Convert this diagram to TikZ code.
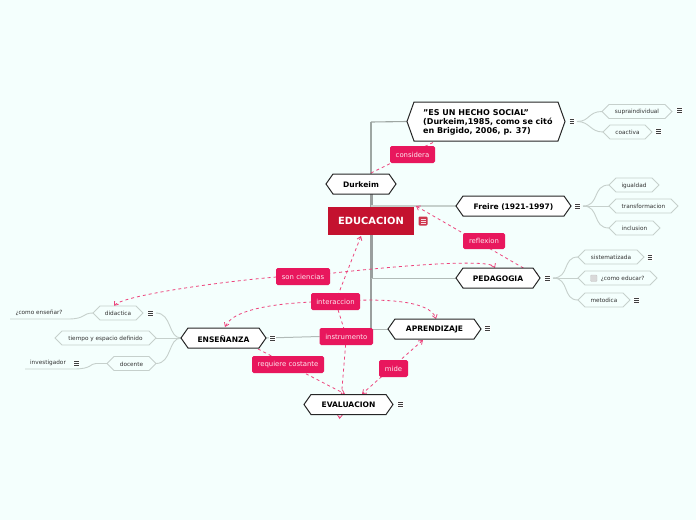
\documentclass[tikz,border=0pt]{standalone}
\usepackage{fontspec}
\setmainfont{DejaVu Sans}
\usetikzlibrary{arrows.meta,backgrounds}
\definecolor{pagebg}{HTML}{F4FFFD}
\definecolor{hotpink}{HTML}{E8175D}
\definecolor{rootred}{HTML}{C4122F}
\definecolor{thinline}{HTML}{C6D0CC}
\definecolor{trunk}{HTML}{9A9F9E}
\definecolor{softtext}{HTML}{333333}
\pgfdeclarelayer{links}
\pgfdeclarelayer{branches}
\pgfsetlayers{background,branches,links,main}
\tikzset{
  box/.style={inner sep=0pt,outer sep=0pt,align=center},
  bigbox/.style={box,text=black,font=\fontsize{7.55}{9}\selectfont\bfseries},
  smallbox/.style={box,text=softtext,font=\fontsize{5.75}{7}\selectfont},
  hexbig/.style={draw=black!85,line width=1pt,fill=white,line join=miter},
  hexsmall/.style={draw=thinline,line width=.9pt,fill=pagebg},
  tag/.style={rectangle,rounded corners=1.6pt,fill=hotpink,text=white!90!hotpink,inner sep=0pt,outer sep=0pt,font=\fontsize{6.9}{8}\selectfont,anchor=center},
  rel/.style={hotpink!80!white,line width=.8pt,dash pattern=on 3pt off 3pt},
  relboth/.style={rel,{Straight Barb[length=3.5pt,width=5pt]}-{Straight Barb[length=3.5pt,width=5pt]}},
  relend/.style={rel,-{Straight Barb[length=3.5pt,width=5pt]}},
  twig/.style={thinline,line width=.9pt},
  plain/.style={smallbox,text=softtext},
  bar/.style={line width=.8pt,draw=#1},
  bar/.default=black!75
}
% [node options]{hex style}{name}{cx,cy}{half width}{half height}{text}
\newcommand{\hexn}[7][]{%
  \node[#2box,minimum width={2*#5 pt},minimum height={2*#6 pt},#1] (#3) at (#4) {};
  \draw[hex#2] ([xshift=7pt]#3.north west) -- ([xshift=-7pt]#3.north east) -- (#3.east)
     -- ([xshift=-7pt]#3.south east) -- ([xshift=7pt]#3.south west) -- (#3.west) -- cycle;
  \node[#2box,yshift=-.7pt,#1] at (#3.center) {#7};
}
\newcommand{\menuicon}[2]{%
  \fill[pagebg!40!white] (#1-3.5,#2-3.5) rectangle (#1+3.5,#2+3.5);
  \draw[bar] (#1-2.3,#2-2) -- (#1+2.3,#2-2) (#1-2.3,#2) -- (#1+2.3,#2) (#1-2.3,#2+2) -- (#1+2.3,#2+2);
}
\begin{document}
\begin{tikzpicture}[x=1pt,y=-1pt]
\useasboundingbox (0,0) rectangle (696,520);
\begin{pgfonlayer}{background}
\fill[pagebg] (0,0) rectangle (696,520);
\end{pgfonlayer}

% root
\node[fill=rootred,text=white,inner sep=0pt,outer sep=0pt,minimum width=86pt,minimum height=28pt,font=\fontsize{9.9}{11}\selectfont\bfseries] (root) at (371,221) {EDUCACION};
\fill[rootred!85!white,rounded corners=1.2pt] (418.5,216.5) rectangle (427.5,225.5);
\draw[bar=white!85!rootred] (420.5,219) -- (425.5,219) (420.5,221) -- (425.5,221) (420.5,223) -- (425.5,223);

% main nodes
\hexn{big}{durk}{361,184}{35}{10}{Durkeim}
\hexn{big}{freire}{513.5,206}{57.5}{10}{Freire (1921-1997)}
\hexn{big}{pedag}{498,278}{42}{10}{PEDAGOGIA}
\hexn{big}{apren}{434.5,329}{46.5}{10}{APRENDIZAJE}
\hexn{big}{ense}{223.5,338}{42.5}{10}{ENSEÑANZA}
\hexn{big}{eval}{348.5,404.5}{44.5}{10}{EVALUACION}
\node[box,minimum width=158pt,minimum height=39pt] (hecho) at (486,121.5) {};
\draw[hexbig] ([xshift=7pt]hecho.north west) -- ([xshift=-7pt]hecho.north east) -- (hecho.east)
  -- ([xshift=-7pt]hecho.south east) -- ([xshift=7pt]hecho.south west) -- (hecho.west) -- cycle;
\node[anchor=west,inner sep=0pt,align=left,font=\fontsize{8}{9}\selectfont\bfseries] at (423,122) {"ES UN HECHO SOCIAL"\\(Durkeim,1985, como se citó\\en Brigido, 2006, p. 37)};

% small nodes
\hexn{small}{supra}{637,111.5}{35}{7}{supraindividual}
\hexn{small}{coac}{627.5,132}{24.5}{7}{coactiva}
\hexn{small}{igual}{634,185}{25}{7}{igualdad}
\hexn{small}{transf}{643.5,206}{34.5}{7}{transformacion}
\hexn{small}{inclu}{634.5,228}{25.5}{7}{inclusion}
\hexn{small}{siste}{611,257}{33}{7}{sistematizada}
\hexn{small}{comoed}{617.5,278}{39.5}{7}{\phantom{xxx}¿como educar?}
\hexn{small}{metod}{604,300}{26}{7}{metodica}
\hexn{small}{didac}{118,313}{25}{7}{didactica}
\hexn{small}{tiempo}{105.5,338}{50.5}{7}{tiempo y espacio definido}
\hexn{small}{docen}{131.5,363.5}{24.5}{7}{docente}
\fill[black!15,draw=black!22,line width=.4pt,rounded corners=1pt] (590.5,275) rectangle (597,281.5);

% leaf texts
\node[plain] (comoen) at (39,313) {¿como enseñar?};
\node[plain] (invest) at (48,363) {investigador};

% tags
\node[tag,minimum width=45pt,minimum height=17pt] (tconsid) at (412.5,154.5) {considera};
\node[tag,minimum width=42pt,minimum height=16pt] (trefl) at (484,241) {reflexion};
\node[tag,minimum width=54pt,minimum height=17pt] (tciencia) at (303,276.5) {son ciencias};
\node[tag,minimum width=49pt,minimum height=17pt] (tinter) at (335.5,301.5) {interaccion};
\node[tag,minimum width=53.5pt,minimum height=17pt] (tinstr) at (346.3,336.5) {instrumento};
\node[tag,minimum width=72pt,minimum height=17pt] (treq) at (288,364.5) {requiere costante};
\node[tag,minimum width=29pt,minimum height=17pt] (tmide) at (393.5,368.5) {mide};

% menu icons
\menuicon{572}{121}
\menuicon{679.5}{110.5}
\menuicon{658.5}{131.5}
\menuicon{577.5}{206}
\menuicon{547.5}{278}
\menuicon{650}{257}
\menuicon{636.5}{300}
\menuicon{487.5}{328.5}
\menuicon{272.5}{338}
\menuicon{400.5}{404.5}
\menuicon{150.5}{313}
\menuicon{76.5}{363}

% trunk and branches
\begin{pgfonlayer}{branches}
\coordinate (jhecho) at (371,122);
\coordinate (jfreire) at (371,206);
\coordinate (jped) at (371,278);
\coordinate (japren) at (371,329);
\draw[trunk,line width=3pt] (root.south) -- (jped);
\draw[trunk,line width=2pt] (jped) -- (japren);
\draw[trunk,line width=3pt] (root.north) -- (durk.south -| root.north);
\draw[thinline!80!black,line width=1.6pt] (durk.north -| root.north) -- (jhecho);
\draw[thinline!80!black,line width=1.1pt] (jhecho) -- (hecho.west);
\draw[thinline,line width=1.2pt] (jfreire) -- (freire.west);
\draw[thinline!90!black,line width=1pt] (jped) -- (pedag.west);
\draw[thinline!90!black,line width=1pt] (japren) -- (apren.west);
\draw[thinline!90!black,line width=1pt] (ense.east) -- (tinstr.west);
% right twigs
\coordinate (ohecho) at (577,121.5);
\draw[twig] (ohecho) .. controls (590,121.5) and (588,111.5) .. (supra.west);
\draw[twig] (ohecho) .. controls (590,121.5) and (590,132) .. (coac.west);
\coordinate (ofreire) at (583,206);
\draw[twig] (ofreire) .. controls (600,206) and (592,185) .. (igual.west);
\draw[twig] (ofreire) -- (transf.west);
\draw[twig] (ofreire) .. controls (600,206) and (592,228) .. (inclu.west);
\coordinate (oped) at (553,278);
\draw[twig] (oped) .. controls (570,278) and (562,257) .. (siste.west);
\draw[twig] (oped) -- (comoed.west);
\draw[twig] (oped) .. controls (570,278) and (562,300) .. (metod.west);
% left twigs
\coordinate (odidac) at (156,313);
\draw[twig] (ense.west) .. controls (168,338) and (172,313) .. (odidac);
\draw[twig] (ense.west) -- (tiempo.east);
\draw[twig] (ense.west) .. controls (168,338) and (172,363.5) .. (docen.east);
\coordinate (fcomo) at (10,319);
\draw[twig] (didac.west) .. controls (82,313) and (86,319) .. (68,319) -- (fcomo);
\coordinate (finv) at (25,369);
\draw[twig] (docen.west) -- (96,363.5) .. controls (90,363.5) and (92,369) .. (74,369) -- (finv);
\end{pgfonlayer}

% relationship links
\begin{pgfonlayer}{links}
\coordinate (a1) at (371,173);
\coordinate (a2) at (434,142);
\draw[rel] (a1) -- (a2);
\coordinate (b1) at (416,206);
\coordinate (b2) at (539,277);
\draw[relboth] (b1) -- (b2);
\coordinate (c1) at (114,306);
\coordinate (c2) at (495,268);
\draw[relboth] (c1) .. controls (125,292) and (300,272) .. (tciencia.center) .. controls (390,266) and (490,258) .. (c2);
\coordinate (d1) at (225,327);
\coordinate (d2) at (436,319);
\draw[relboth] (d1) .. controls (235,305) and (300,301.5) .. (tinter.center) .. controls (380,298) and (430,300) .. (d2);
\coordinate (e1) at (361,236);
\coordinate (e2) at (339.5,419);
\draw[relboth] (e1) -- (tinter.center) -- (tinstr.center) -- (e2);
\coordinate (f1) at (258,349);
\coordinate (f2) at (345,394);
\draw[relend] (f1) -- (treq.center) -- (f2);
\coordinate (g1) at (423,340);
\coordinate (g2) at (362,394);
\draw[relboth] (g1) -- (g2);
\end{pgfonlayer}
\end{tikzpicture}
\end{document}
